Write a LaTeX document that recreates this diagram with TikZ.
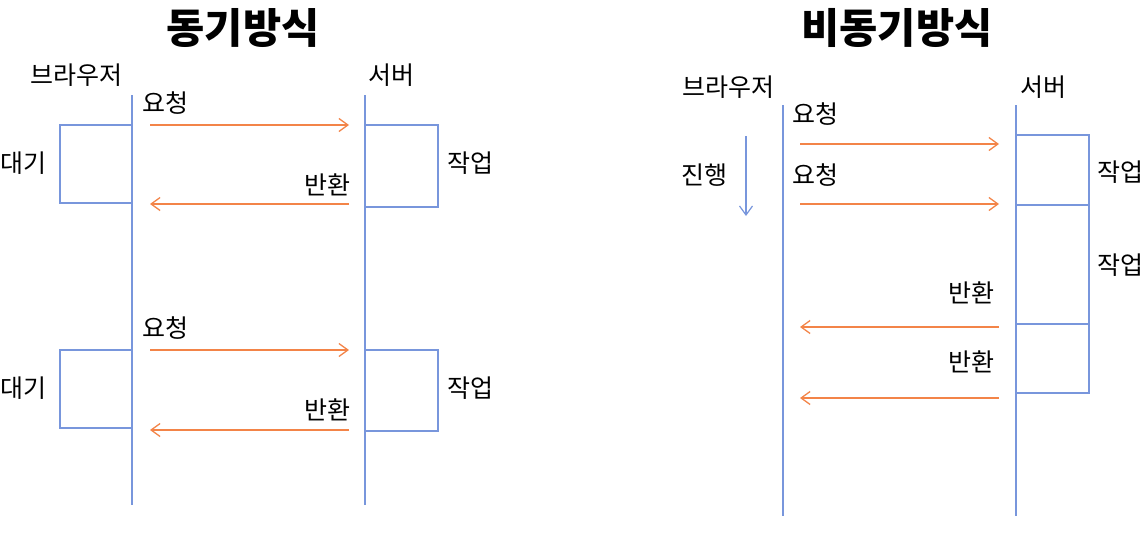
\documentclass[tikz,border=0pt]{standalone}
\usepackage{fontspec}
\setmainfont{Noto Sans CJK KR}
\usetikzlibrary{arrows.meta}
\definecolor{lineblue}{RGB}{120,150,220}
\definecolor{arroworange}{RGB}{243,132,72}
\tikzset{
  life/.style={draw=lineblue, line width=1.3pt},
  boxline/.style={draw=lineblue, line width=1.3pt},
  msg/.style={draw=arroworange, line width=1.5pt, -{Straight Barb[length=9pt,width=13pt,line width=1.3pt]}},
  prog/.style={draw=lineblue, line width=1.3pt, -{Straight Barb[length=9pt,width=13pt,line width=1.2pt]}},
  lbl/.style={inner sep=0pt, font=\fontsize{25}{30}\selectfont},
  ttl/.style={inner sep=0pt, font=\fontsize{41.5}{50}\selectfont\bfseries},
}
\begin{document}
\begin{tikzpicture}[x=1pt,y=-1pt]
\useasboundingbox (0,0) rectangle (1147,533);
% ---------- left: synchronous ----------
\node[ttl] (t1) at (243,28) {동기방식};
\node[lbl] (b1) at (76,75) {브라우저};
\node[lbl] (s1) at (391,75) {서버};
\coordinate (b1top) at (132,95);
\coordinate (b1bot) at (132,505);
\coordinate (s1top) at (365,95);
\coordinate (s1bot) at (365,505);
\draw[boxline] (60,125) rectangle (132,203);
\draw[boxline] (365,125) rectangle (438,207);
\draw[boxline] (60,350) rectangle (132,428);
\draw[boxline] (365,350) rectangle (438,431);
\draw[life] (b1top) -- (b1bot);
\draw[life] (s1top) -- (s1bot);
\node[lbl] (w1) at (24,163) {대기};
\node[lbl] (j1) at (470,163) {작업};
\node[lbl] (w2) at (24,388) {대기};
\node[lbl] (j2) at (470,388) {작업};
\node[lbl, anchor=west] (r1) at (142,103) {요청};
\node[lbl, anchor=east] (v1) at (351,185) {반환};
\node[lbl, anchor=west] (r2) at (142,328) {요청};
\node[lbl, anchor=east] (v2) at (351,410) {반환};
\coordinate (a1s) at (150,125); \coordinate (a1e) at (349,125);
\coordinate (a2s) at (349,204); \coordinate (a2e) at (150,204);
\coordinate (a3s) at (150,350); \coordinate (a3e) at (349,350);
\coordinate (a4s) at (349,430); \coordinate (a4e) at (150,430);
\draw[msg] (a1s) -- (a1e);
\draw[msg] (a2s) -- (a2e);
\draw[msg] (a3s) -- (a3e);
\draw[msg] (a4s) -- (a4e);
% ---------- right: asynchronous ----------
\node[ttl] (t2) at (897,28) {비동기방식};
\node[lbl] (b2) at (728,87) {브라우저};
\node[lbl] (s2) at (1043,87) {서버};
\coordinate (b2top) at (783,105);
\coordinate (b2bot) at (783,516);
\coordinate (s2top) at (1016,105);
\coordinate (s2bot) at (1016,516);
\draw[boxline] (1016,135) rectangle (1089,324);
\draw[boxline] (1016,205) rectangle (1089,393);
\draw[life] (b2top) -- (b2bot);
\draw[life] (s2top) -- (s2bot);
\node[lbl] (pg) at (704,175) {진행};
\coordinate (p1) at (746,136); \coordinate (p2) at (746,216);
\draw[prog] (p1) -- (p2);
\node[lbl, anchor=west] (r3) at (792,114) {요청};
\node[lbl, anchor=west] (r4) at (792,175) {요청};
\node[lbl, anchor=west] (j3) at (1097,172) {작업};
\node[lbl, anchor=west] (j4) at (1097,265) {작업};
\node[lbl, anchor=east] (v3) at (995,293) {반환};
\node[lbl, anchor=east] (v4) at (995,362) {반환};
\coordinate (c1s) at (800,144); \coordinate (c1e) at (999,144);
\coordinate (c2s) at (800,204); \coordinate (c2e) at (999,204);
\coordinate (c3s) at (999,327); \coordinate (c3e) at (800,327);
\coordinate (c4s) at (999,398); \coordinate (c4e) at (800,398);
\draw[msg] (c1s) -- (c1e);
\draw[msg] (c2s) -- (c2e);
\draw[msg] (c3s) -- (c3e);
\draw[msg] (c4s) -- (c4e);
\end{tikzpicture}
\end{document}
